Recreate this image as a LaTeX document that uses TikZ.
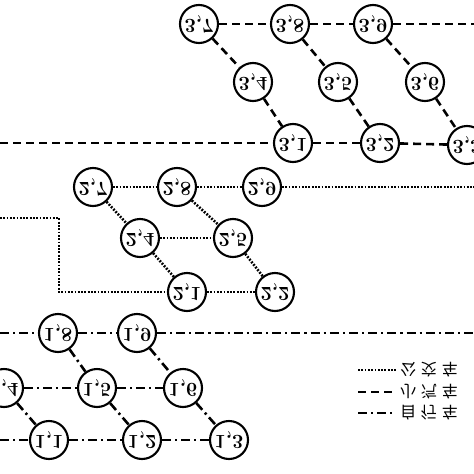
\documentclass[tikz,border=0pt]{standalone}
\usepackage{fontspec}
\newfontfamily\cjk[LetterSpace=30]{Noto Sans CJK SC}
\newcommand\flipv[1]{\scalebox{1}[-1]{#1}}
\begin{document}
\begin{tikzpicture}[x=1pt,y=-1pt,
  nd/.style={circle,draw,line width=2.1pt,minimum size=38pt,inner sep=0pt,font=\fontsize{20}{20}\selectfont\bfseries},
  car/.style={line width=2.6pt,dash pattern=on 8pt off 5pt},
  bus/.style={line width=2.6pt,dash pattern=on 1.8pt off 1.5pt},
  bike/.style={line width=2.6pt,dash pattern=on 9pt off 4pt on 2.2pt off 4pt},
  lg/.style={anchor=west,inner sep=0pt,font=\cjk\fontsize{16}{16}\selectfont}]
\useasboundingbox (0,0) rectangle (474,474);
% group 3 (car)
\node[nd] (c37) at (199,24) {\flipv{3,7}};
\node[nd] (c38) at (290,24) {\flipv{3,8}};
\node[nd] (c39) at (373,24) {\flipv{3,9}};
\node[nd] (c34) at (253,82) {\flipv{3,4}};
\node[nd] (c35) at (338,82) {\flipv{3,5}};
\node[nd] (c36) at (425,82) {\flipv{3,6}};
\node[nd] (c31) at (293,143) {\flipv{3,1}};
\node[nd] (c32) at (380,143) {\flipv{3,2}};
\node[nd] (c33) at (467,145) {\flipv{3,3}};
\coordinate (cR) at (474,24);
\coordinate (cL) at (0,143);
\draw[car] (c37) -- (c38);
\draw[car] (c38) -- (c39);
\draw[car] (c39) -- (cR);
\draw[car] (cL) -- (c31);
\draw[car] (c31) -- (c32);
\draw[car] (c32) -- (c33);
\draw[car] (c37) -- (c34);
\draw[car] (c34) -- (c31);
\draw[car] (c38) -- (c35);
\draw[car] (c35) -- (c32);
\draw[car] (c39) -- (c36);
\draw[car] (c36) -- (c33);
% group 2 (bus)
\node[nd] (b27) at (93,187) {\flipv{2,7}};
\node[nd] (b28) at (177,187) {\flipv{2,8}};
\node[nd] (b29) at (262,187) {\flipv{2,9}};
\node[nd] (b24) at (140,238) {\flipv{2,4}};
\node[nd] (b25) at (233,238) {\flipv{2,5}};
\node[nd] (b21) at (187,292) {\flipv{2,1}};
\node[nd] (b22) at (275,292) {\flipv{2,2}};
\coordinate (bR) at (474,187);
\coordinate (bL) at (0,218);
\coordinate (bK1) at (59,218);
\coordinate (bK2) at (59,292);
\draw[bus] (b27) -- (b28);
\draw[bus] (b28) -- (b29);
\draw[bus] (b29) -- (bR);
\draw[bus] (b24) -- (b25);
\draw[bus] (b21) -- (b22);
\draw[bus] (b27) -- (b24);
\draw[bus] (b24) -- (b21);
\draw[bus] (b28) -- (b25);
\draw[bus] (b25) -- (b22);
\draw[bus] (bL) -- (bK1) -- (bK2) -- (b21);
% group 1 (bike)
\node[nd] (a18) at (58,333) {\flipv{1,8}};
\node[nd] (a19) at (137,333) {\flipv{1,9}};
\node[nd] (a14) at (4,388) {\flipv{1,4}};
\node[nd] (a15) at (97,388) {\flipv{1,5}};
\node[nd] (a16) at (183,388) {\flipv{1,6}};
\node[nd] (a11) at (49,440) {\flipv{1,1}};
\node[nd] (a12) at (142,440) {\flipv{1,2}};
\node[nd] (a13) at (229,440) {\flipv{1,3}};
\coordinate (aL1) at (0,333);
\coordinate (aR1) at (474,333);
\coordinate (aL3) at (0,440);
\draw[bike] (aL1) -- (a18);
\draw[bike] (a18) -- (a19);
\draw[bike] (a19) -- (aR1);
\draw[bike] (a14) -- (a15);
\draw[bike] (a15) -- (a16);
\draw[bike] (aL3) -- (a11);
\draw[bike] (a11) -- (a12);
\draw[bike] (a12) -- (a13);
\draw[bike] (a18) -- (a15);
\draw[bike] (a15) -- (a12);
\draw[bike] (a19) -- (a16);
\draw[bike] (a16) -- (a13);
\draw[bike] (a14) -- (a11);
% legend
\node[lg] (t1) at (400,370) {\flipv{公交车}};
\node[lg] (t2) at (400,392) {\flipv{小汽车}};
\node[lg] (t3) at (400,413) {\flipv{自行车}};
\coordinate (l1) at (358,370);
\coordinate (l2) at (358,392);
\coordinate (l3) at (358,413);
\draw[bus] (l1) -- ([xshift=-3pt]t1.west);
\draw[car] (l2) -- ([xshift=-4pt]t2.west);
\draw[bike] (l3) -- ([xshift=-6pt]t3.west);
\end{tikzpicture}
\end{document}
